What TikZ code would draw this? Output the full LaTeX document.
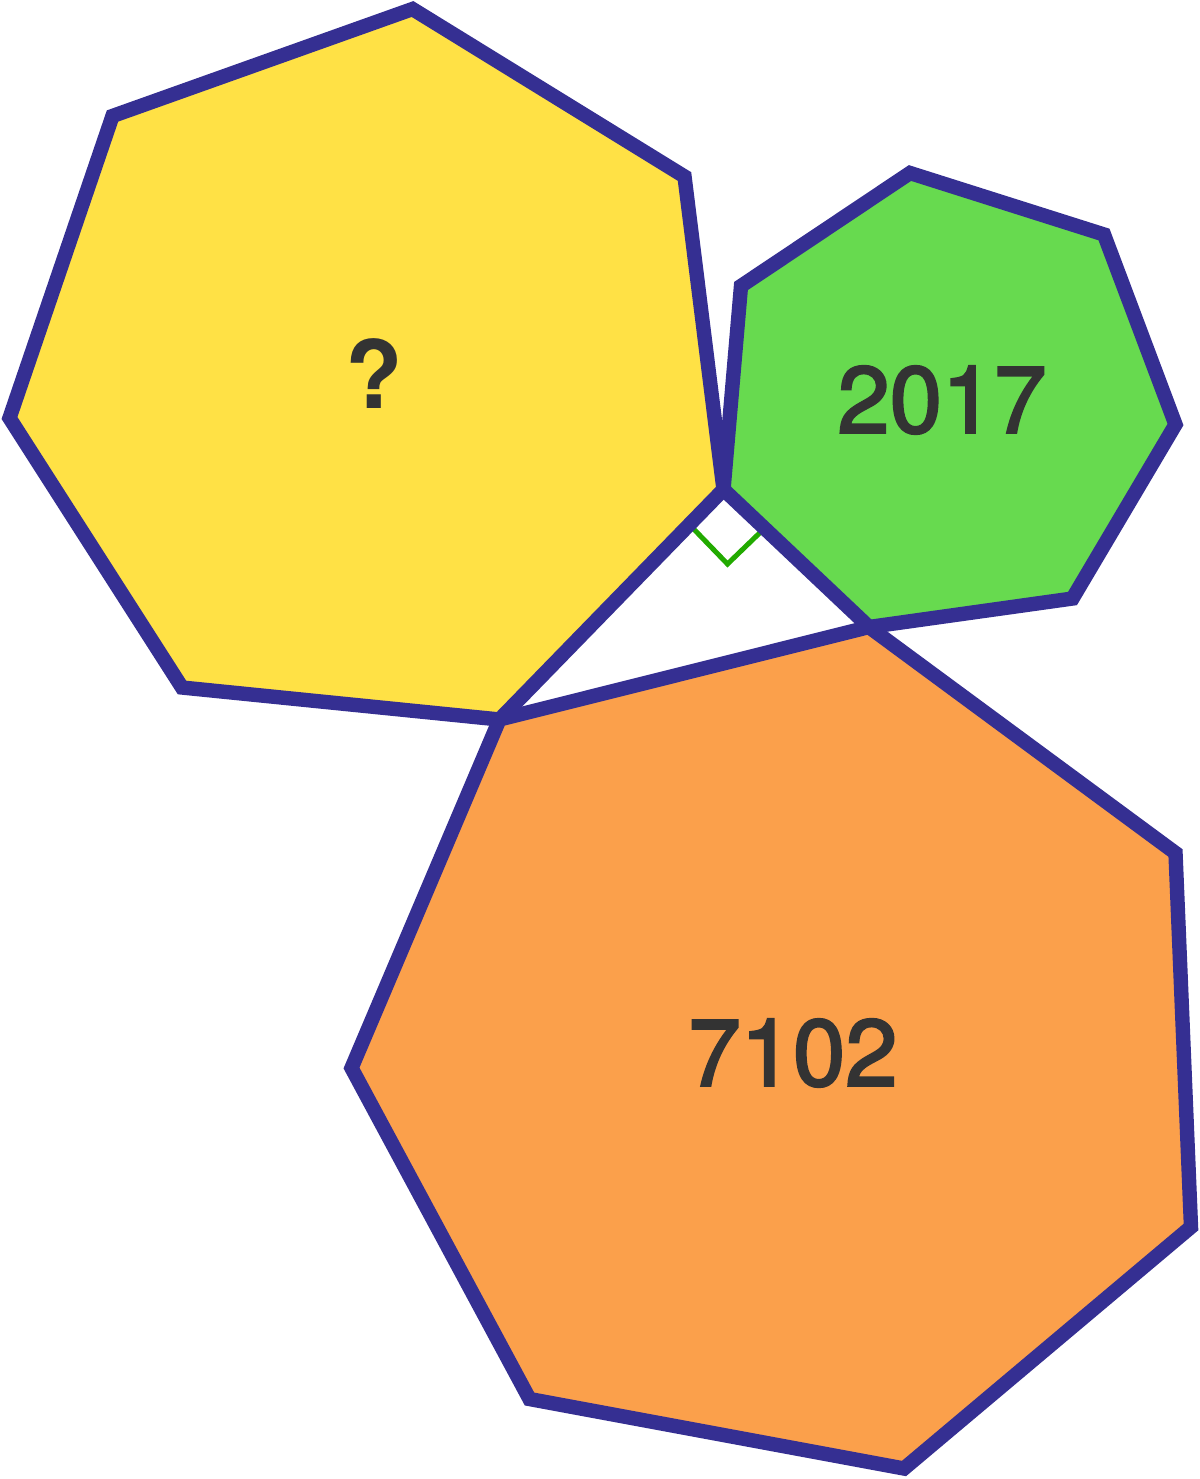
\documentclass[tikz,border=0pt]{standalone}
\usepackage{fontspec}
\setmainfont{TeX Gyre Heros}
\newfontfamily\numfont[FakeBold=2.5]{TeX Gyre Heros}
\usetikzlibrary{calc}
\definecolor{edgeblue}{HTML}{352F92}
\definecolor{yel}{HTML}{FFE145}
\definecolor{grn}{HTML}{67DA4F}
\definecolor{org}{HTML}{FBA04B}
\definecolor{txt}{HTML}{333333}
\definecolor{markgreen}{HTML}{22AA00}
\begin{document}
\begin{tikzpicture}[x=0.5pt,y=-0.5pt,
  hept/.style={draw=edgeblue,line width=7.2pt,line join=miter},
  lbl/.style={text=txt,inner sep=0pt},
  rightmark/.style={draw=markgreen,line width=2.5pt,line join=miter}]
\useasboundingbox (0,0) rectangle (1200,1479);
% shared vertices of the right triangle
\coordinate (C) at (723.5,489.5);
\coordinate (A) at (499.5,719.5);
\coordinate (B) at (869,627);
% yellow heptagon vertices
\coordinate (Y1) at (412.5,9);
\coordinate (Y2) at (684.5,176.5);
\coordinate (Y5) at (182,687.5);
\coordinate (Y6) at (9.5,418);
\coordinate (Y7) at (112.5,116);
% green heptagon vertices
\coordinate (G1) at (910,173);
\coordinate (G2) at (1104,234.5);
\coordinate (G3) at (1175.5,424.5);
\coordinate (G4) at (1072.5,598.5);
\coordinate (G7) at (741,286);
% orange heptagon vertices
\coordinate (O2) at (1175.5,853);
\coordinate (O3) at (1191,1227);
\coordinate (O4) at (904,1468.5);
\coordinate (O5) at (529.5,1399);
\coordinate (O6) at (351.5,1068);
% right-angle marker
\coordinate (M2) at (727.5,564);
\coordinate (M1) at ($(M2)+(226:56)$);
\coordinate (M3) at ($(M2)+(316:56)$);
\draw[rightmark] (M1) -- (M2) -- (M3);
% heptagons
\draw[hept,fill=yel] (Y1) -- (Y2) -- (C) -- (A) -- (Y5) -- (Y6) -- (Y7) -- cycle;
\draw[hept,fill=grn] (G1) -- (G2) -- (G3) -- (G4) -- (B) -- (C) -- (G7) -- cycle;
\draw[hept,fill=org] (B) -- (O2) -- (O3) -- (O4) -- (O5) -- (O6) -- (A) -- cycle;
% labels
\node[lbl,font=\fontsize{47}{50}\selectfont\bfseries] (q) at (374,374) {?};
\node[lbl,font=\fontsize{47}{50}\numfont] (g) at (942,400) {2017};
\node[lbl,font=\fontsize{47}{50}\numfont] (o) at (793,1053) {7102};
\end{tikzpicture}
\end{document}
